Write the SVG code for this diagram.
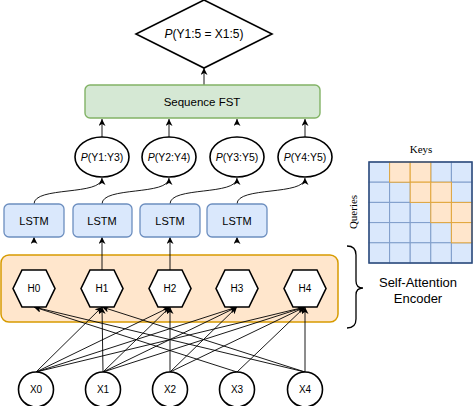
<svg xmlns="http://www.w3.org/2000/svg" width="474" height="406" viewBox="0 0 474 406">
<style>
text{font-family:"Liberation Sans",Arial,sans-serif;fill:#000;text-anchor:middle;dominant-baseline:central}
.serif{font-family:"Liberation Serif","Times New Roman",serif}
.node{stroke:#000;stroke-width:1.6;fill:#fff}
.lstm{fill:#dae8fc;stroke:#6c8ebf;stroke-width:1.3}
.edge{fill:none;stroke:#000;stroke-width:0.9;marker-end:url(#arr)}
.cb{fill:#dae8fc;stroke:#7f9dca;stroke-width:1}
.co{fill:#ffe6cc;stroke:#e2a63a;stroke-width:1}
</style>
<defs>
<marker id="arr" markerUnits="userSpaceOnUse" markerWidth="8" markerHeight="7" refX="7" refY="3.5" orient="auto">
<path d="M0,0 L7,3.5 L0,7 L2,3.5 z" fill="#000"/>
</marker>
</defs>
<rect width="474" height="406" fill="#fff"/>

<g id="encoder-box">
<rect x="1" y="255" width="337" height="67" rx="8" fill="#ffe6cc" stroke="#d79b00" stroke-width="1.5"/>
</g>

<g id="connectors">
<path class="edge" d="M204,85 L204,68"/>
<path class="edge" d="M102,137 L102,119"/>
<path class="edge" d="M169,137 L169,119"/>
<path class="edge" d="M237,125 L237,119"/>
<path class="edge" d="M305,137 L305,119"/>
<path class="edge" d="M34,204 C34,186 102,196 102,178"/>
<path class="edge" d="M102,204 C102,186 169,196 169,178"/>
<path class="edge" d="M170,204 C170,186 237,196 237,178"/>
<path class="edge" d="M237,204 C237,186 305,196 305,178"/>
<path class="edge" d="M34,243 L34,237"/>
<path class="edge" d="M102,270 L102,237"/>
<path class="edge" d="M170,270 L170,237"/>
<path class="edge" d="M237,243 L237,237"/>
<path class="edge" d="M36,372 L102,307"/>
<path class="edge" d="M36,372 L170,307"/>
<path class="edge" d="M36,372 L237,307"/>
<path class="edge" d="M36,372 L305,307"/>
<path class="edge" d="M103,372 L102,307"/>
<path class="edge" d="M103,372 L170,307"/>
<path class="edge" d="M103,372 L237,307"/>
<path class="edge" d="M103,372 L305,307"/>
<path class="edge" d="M170,372 L170,307"/>
<path class="edge" d="M170,372 L237,307"/>
<path class="edge" d="M170,372 L305,307"/>
<path class="edge" d="M237,372 L34,307"/>
<path class="edge" d="M237,372 L305,307"/>
<path class="edge" d="M305,372 L34,307"/>
<path class="edge" d="M305,372 L102,307"/>
<path class="edge" d="M305,372 L305,307"/>
</g>

<g id="joint">
<polygon class="node" points="204,0 272,34 204,68 136,34"/>
<text x="204" y="34" font-size="12"><tspan font-style="italic">P</tspan>(Y1:5 = X1:5)</text>
</g>

<g id="fst">
<rect x="85" y="85" width="235" height="33" rx="5" fill="#d5e8d4" stroke="#82b366" stroke-width="1.4"/>
<text x="202" y="102" font-size="11.5">Sequence FST</text>
</g>

<g id="p13"><ellipse class="node" cx="102" cy="157" rx="27" ry="20"/><text x="102" y="157" font-size="10.5"><tspan font-style="italic">P</tspan>(Y1:Y3)</text></g>
<g id="p24"><ellipse class="node" cx="169" cy="157" rx="27" ry="20"/><text x="169" y="157" font-size="10.5"><tspan font-style="italic">P</tspan>(Y2:Y4)</text></g>
<g id="p35"><ellipse class="node" cx="237" cy="157" rx="27" ry="20"/><text x="237" y="157" font-size="10.5"><tspan font-style="italic">P</tspan>(Y3:Y5)</text></g>
<g id="p45"><ellipse class="node" cx="305" cy="157" rx="27" ry="20"/><text x="305" y="157" font-size="10.5"><tspan font-style="italic">P</tspan>(Y4:Y5)</text></g>

<g id="lstm1"><rect class="lstm" x="4" y="204" width="60" height="33" rx="5"/><text x="34" y="221" font-size="11">LSTM</text></g>
<g id="lstm2"><rect class="lstm" x="73" y="204" width="59" height="33" rx="5"/><text x="102" y="221" font-size="11">LSTM</text></g>
<g id="lstm3"><rect class="lstm" x="140" y="204" width="60" height="33" rx="5"/><text x="170" y="221" font-size="11">LSTM</text></g>
<g id="lstm4"><rect class="lstm" x="207" y="204" width="60" height="33" rx="5"/><text x="237" y="221" font-size="11">LSTM</text></g>

<g id="h0"><polygon class="node" points="13,288.5 22,270 46,270 55,288.5 46,307 22,307"/><text x="34" y="288.5" font-size="10">H0</text></g>
<g id="h1"><polygon class="node" points="81,288.5 90,270 114,270 123,288.5 114,307 90,307"/><text x="102" y="288.5" font-size="10">H1</text></g>
<g id="h2"><polygon class="node" points="149,288.5 158,270 182,270 191,288.5 182,307 158,307"/><text x="170" y="288.5" font-size="10">H2</text></g>
<g id="h3"><polygon class="node" points="216,288.5 225,270 249,270 258,288.5 249,307 225,307"/><text x="237" y="288.5" font-size="10">H3</text></g>
<g id="h4"><polygon class="node" points="284,288.5 293,270 317,270 326,288.5 317,307 293,307"/><text x="305" y="288.5" font-size="10">H4</text></g>

<g id="x0"><circle class="node" cx="36" cy="389.5" r="17.5"/><text x="36" y="389" font-size="10">X0</text></g>
<g id="x1"><circle class="node" cx="103" cy="389.5" r="17.5"/><text x="103" y="389" font-size="10">X1</text></g>
<g id="x2"><circle class="node" cx="170" cy="389.5" r="17.5"/><text x="170" y="389" font-size="10">X2</text></g>
<g id="x3"><circle class="node" cx="237" cy="389.5" r="17.5"/><text x="237" y="389" font-size="10">X3</text></g>
<g id="x4"><circle class="node" cx="305" cy="389.5" r="17.5"/><text x="305" y="389" font-size="10">X4</text></g>

<g id="brace">
<path d="M347,246 Q356,246 356,255 L356,281 Q356,288 363,288 Q356,288 356,295 L356,319 Q356,328 347,328" fill="none" stroke="#000" stroke-width="1.3"/>
<text x="418" y="282" font-size="13">Self-Attention</text>
<text x="418" y="298" font-size="13">Encoder</text>
</g>

<g id="attention-grid">
<text class="serif" x="421" y="149" font-size="11">Keys</text>
<text class="serif" x="353" y="212" font-size="11" transform="rotate(-90 353 212)">Queries</text>
<g>
<rect class="cb" x="369" y="162" width="20.6" height="20.2"/>
<rect class="cb" x="430.8" y="162" width="20.6" height="20.2"/>
<rect class="cb" x="451.4" y="162" width="20.6" height="20.2"/>
<rect class="cb" x="369" y="182.2" width="20.6" height="20.2"/>
<rect class="cb" x="389.6" y="182.2" width="20.6" height="20.2"/>
<rect class="cb" x="451.4" y="182.2" width="20.6" height="20.2"/>
<rect class="cb" x="369" y="202.4" width="20.6" height="20.2"/>
<rect class="cb" x="389.6" y="202.4" width="20.6" height="20.2"/>
<rect class="cb" x="410.2" y="202.4" width="20.6" height="20.2"/>
<rect class="cb" x="369" y="222.6" width="20.6" height="20.2"/>
<rect class="cb" x="389.6" y="222.6" width="20.6" height="20.2"/>
<rect class="cb" x="410.2" y="222.6" width="20.6" height="20.2"/>
<rect class="cb" x="430.8" y="222.6" width="20.6" height="20.2"/>
<rect class="cb" x="369" y="242.8" width="20.6" height="20.2"/>
<rect class="cb" x="389.6" y="242.8" width="20.6" height="20.2"/>
<rect class="cb" x="410.2" y="242.8" width="20.6" height="20.2"/>
<rect class="cb" x="430.8" y="242.8" width="20.6" height="20.2"/>
<rect class="cb" x="451.4" y="242.8" width="20.6" height="20.2"/>
<rect class="co" x="389.6" y="162" width="20.6" height="20.2"/>
<rect class="co" x="410.2" y="162" width="20.6" height="20.2"/>
<rect class="co" x="410.2" y="182.2" width="20.6" height="20.2"/>
<rect class="co" x="430.8" y="182.2" width="20.6" height="20.2"/>
<rect class="co" x="430.8" y="202.4" width="20.6" height="20.2"/>
<rect class="co" x="451.4" y="202.4" width="20.6" height="20.2"/>
<rect class="co" x="451.4" y="222.6" width="20.6" height="20.2"/>
</g>
<rect x="369" y="162" width="103" height="101" fill="none" stroke="#2d4a7a" stroke-width="1.5"/>
</g>
</svg>
